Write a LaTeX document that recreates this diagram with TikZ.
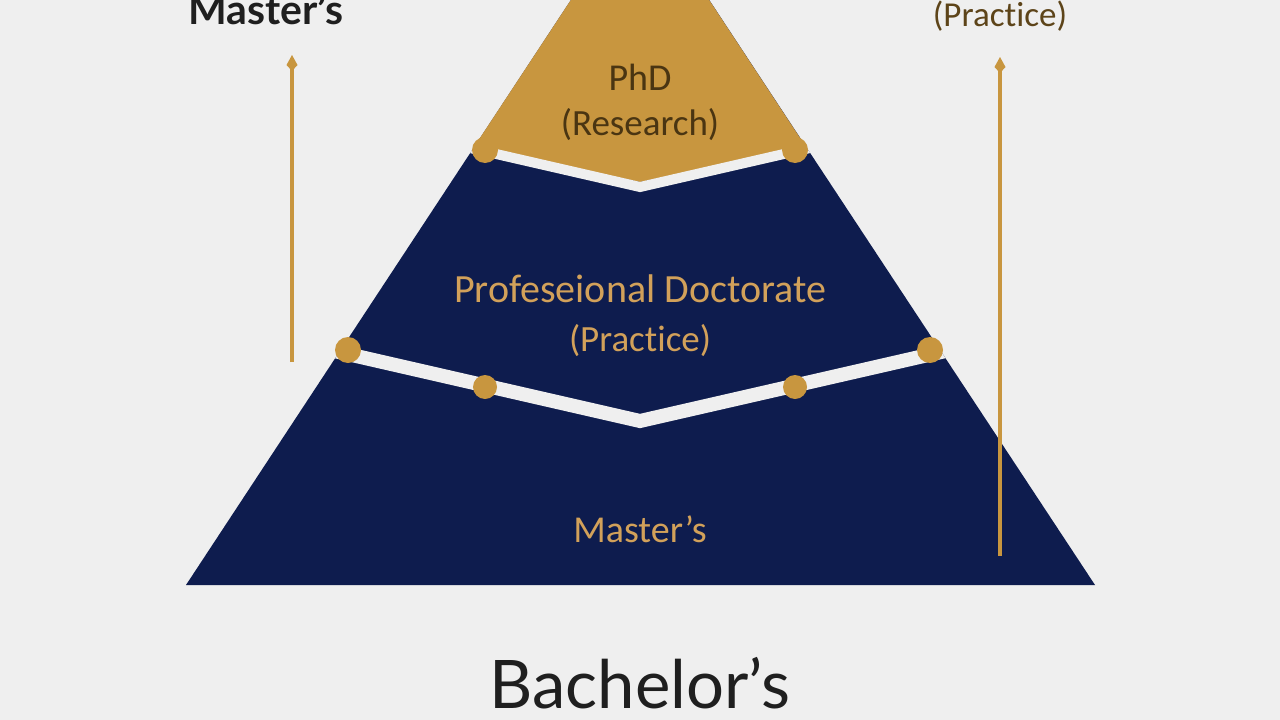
\documentclass[tikz,border=0pt]{standalone}
\usepackage{fontspec}
\setmainfont{Carlito}[Ligatures={TeX,NoCommon}]
\newfontfamily\latofont{Lato}[Ligatures={TeX,NoCommon}]
\usepackage{tikz}
\usetikzlibrary{arrows.meta}

\definecolor{bgcol}{HTML}{EFEFEF}
\definecolor{navy}{HTML}{0E1C4E}
\definecolor{gold}{HTML}{C8963F}
\definecolor{goldtext}{HTML}{D2A15A}
\definecolor{brown}{HTML}{4A3512}
\definecolor{darktext}{HTML}{1F1F1F}

\begin{document}
\begin{tikzpicture}[x=1pt, y=-1pt]
	\tikzstyle{tiertext} = [anchor=base, inner sep=0pt, font=\fontsize{38}{44}\selectfont]
	
	\tikzstyle{cornertext} = [anchor=base, inner sep=0pt, font=\latofont\bfseries\fontsize{41}{48}\selectfont, text=darktext]
	
	\tikzstyle{dot} = [circle, fill=gold, inner sep=0pt, minimum size=26pt]
	
	\tikzstyle{band} = [draw=bgcol, line join=miter]
	
	\tikzstyle{arrow} = [-{Kite[length=16pt, width=11pt, inset=6pt]}, gold, line width=3.5pt]
	
	% Background and frame
	\clip (0,0) rectangle (1280,720);
	\fill[bgcol] (0,0) rectangle (1280,720);
	
	% Pyramid
	\coordinate (apex) at (640,-105);
	\coordinate (baseL) at (186,585);
	\coordinate (baseR) at (1095,585);
	\fill[navy] (apex) -- (baseL) -- (baseR) -- cycle;
	\fill[gold] (apex) -- (474,147) -- (640,182) -- (806,147) -- cycle;
	
	% Separating bands
	\begin{scope}
		\clip (apex) -- (baseL) -- (baseR) -- cycle;
		\draw[band, line width=10pt] (470,148) -- (640,187) -- (810,148);
		\draw[band, line width=14pt] (330,350) -- (640,421) -- (950,350);
	\end{scope}
	
	% Dots
	\node (d1) [dot] at (485,150) {};
	\node (d2) [dot] at (795,150) {};
	\node (d3) [dot] at (348,350) {};
	\node (d4) [dot, minimum size=24pt] at (485,387) {};
	\node (d5) [dot, minimum size=24pt] at (795,387) {};
	\node (d6) [dot] at (930,350) {};
	
	% Arrows
	\coordinate (lbot) at (292,362);
	\coordinate (ltop) at (292,55);
	\coordinate (rbot) at (1000,556);
	\coordinate (rtop) at (1000,57);
	\draw [arrow] (lbot) -- (ltop);
	\draw [arrow] (rbot) -- (rtop);
	
	% Tier labels
	\node (phd) [tiertext, text=brown] at (640,90) {PhD};
	\node (phdsub) [tiertext, text=brown, font=\fontsize{37}{44}\selectfont] at (640,135) {(Research)};
	\node (prof) [tiertext, text=goldtext, font=\fontsize{40}{48}\selectfont] at (640,302) {Profeseional Doctorate};
	\node (profsub) [tiertext, text=goldtext, font=\fontsize{37}{44}\selectfont] at (640,351) {(Practice)};
	\node (mast) [tiertext, text=goldtext] at (640,542) {Master’s};
	
	% Outside labels
	\node (mastlbl) [cornertext] at (266,24) {Master’s};
	\node (praclbl) [tiertext, text=brown!85!gold, font=\fontsize{35}{42}\selectfont] at (1000,26) {(Practice)};
	\node (bach) [cornertext, font=\latofont\fontsize{67}{80}\selectfont] at (640,708) {Bachelor’s};
\end{tikzpicture}
\end{document}
